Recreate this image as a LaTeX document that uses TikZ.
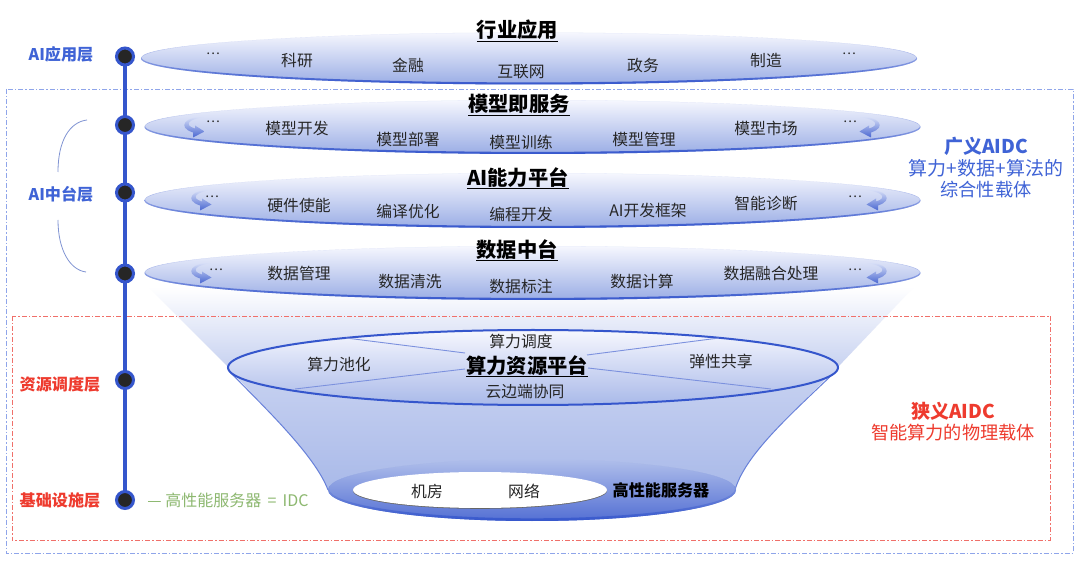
\documentclass[tikz,border=0pt]{standalone}
\usepackage{fontspec}
\setmainfont{Noto Sans CJK SC}
\definecolor{lineblue}{HTML}{3556CC}
\definecolor{txtblue}{HTML}{3F63D6}
\definecolor{frameblue}{HTML}{8FA5EA}
\definecolor{framered}{HTML}{F0706A}
\definecolor{txtred}{HTML}{EE3B2E}
\definecolor{txtgreen}{HTML}{8DB870}
\definecolor{txtdark}{HTML}{262626}
\definecolor{lenstop}{HTML}{F6F7FE}
\definecolor{lensbot}{HTML}{9AADE5}
\tikzset{
  fs/.style={font=\fontsize{#1}{#1}\selectfont},
  lbl/.style={fs=15.8,text=txtdark,inner sep=0pt,yshift=-0.8pt},
  ttl/.style={text=black,inner sep=0pt,font=\fontsize{20.3}{20.3}\selectfont\bfseries,yshift=-1.2pt},
  lay/.style={inner sep=0pt,font=\fontsize{16.1}{16.1}\selectfont\bfseries,yshift=-0.8pt},
  more/.style={fs=13,text=txtdark,inner sep=0pt},
  tdot/.style={circle,draw=lineblue,line width=3pt,fill=txtdark,minimum size=17pt,inner sep=0pt},
  frameline/.style={line width=0.9pt,dash pattern=on 5pt off 2pt on 1.5pt off 2pt},
  brace/.style={line width=0.8pt,draw=frameblue!90!black},
}
\newcommand{\lens}[4]{%
  \shade[top color=lenstop,bottom color=lensbot] (#1,#2) ellipse[x radius=#3,y radius=#4];
  \shade[even odd rule,top color=lenstop!85!frameblue,middle color=frameblue,bottom color=lineblue]
    (#1,#2) ellipse[x radius=#3,y radius=#4]
    (#1,#2-0.9) ellipse[x radius=#3-0.6,y radius=#4-1.2];
}
\newcommand{\swirlpath}{(22,0) .. controls (4,-1) and (-6,10) .. (11,15.5) -- (11,20.5) -- (22.5,14.5) -- (13,8.5) -- (13,11.5) .. controls (1,8) and (7,2) .. (22,0) -- cycle}
\newcommand{\swirlL}[2]{\shade[shift={(#1,#2)},top color=frameblue!30!white,middle color=frameblue,bottom color=lineblue!90!white] \swirlpath;}
\newcommand{\swirlR}[2]{\shade[shift={(#1,#2)},xscale=-1,top color=frameblue!30!white,middle color=frameblue,bottom color=lineblue!90!white] \swirlpath;}
\begin{document}
\begin{tikzpicture}[x=1pt,y=-1pt]
\useasboundingbox (0,0) rectangle (1080,561);
\fill[white] (0,0) rectangle (1080,561);

% fan under the data platform
\shade[top color=white,bottom color=lensbot!55!white] (148,287) -- (914,287) -- (838,367) -- (228,367) -- cycle;
% lower funnel
\shade[top color=lensbot!55!white,bottom color=lensbot!85!white] (230,370) .. controls (262,405) and (315,455) .. (328,490) -- (735,490) .. controls (745,455) and (790,415) .. (835,370) -- cycle;
\draw[line width=1pt,draw=lineblue!75!white] (230,372) .. controls (262,405) and (315,455) .. (328,490);
\draw[line width=1pt,draw=lineblue!75!white] (735,490) .. controls (745,455) and (790,415) .. (835,372);

% upper lenses
\lens{529}{58.5}{388}{26}
\lens{532.5}{127}{388}{27}
\lens{532.5}{200.5}{388}{27.5}
\lens{532.5}{273}{388}{27}

% server ring
\shade[top color=lensbot!78!white,bottom color=lineblue!85!white] (532,490) ellipse[x radius=204,y radius=31];
\shade[even odd rule,top color=lensbot!78!white,middle color=lineblue!70!white,bottom color=lineblue]
  (532,490) ellipse[x radius=204,y radius=31]
  (532,488.8) ellipse[x radius=203,y radius=29.5];
\fill[black!60] (480,490.8) ellipse[x radius=127,y radius=18];
\fill[white] (480,490) ellipse[x radius=127,y radius=18];

% computing platform ellipse
\shade[top color=lenstop,bottom color=lensbot!85!white] (533,367.5) ellipse[x radius=305,y radius=37.5];
\draw[line width=2pt,draw=lineblue] (533,367.5) ellipse[x radius=305,y radius=37.5];
\coordinate (xa) at (346,338);
\coordinate (xb) at (465,353);
\coordinate (xc) at (295,389);
\coordinate (xd) at (465,369);
\coordinate (xe) at (719,338);
\coordinate (xf) at (587,355);
\coordinate (xg) at (771,389);
\coordinate (xh) at (588,368);
\draw[line width=0.9pt,draw=lineblue!65!white] (xa)--(xb) (xc)--(xd) (xe)--(xf) (xg)--(xh);

% swirl arrows
\swirlL{182}{117}\swirlL{189}{190}\swirlL{189}{263}
\swirlR{882}{117}\swirlR{889}{190}\swirlR{889}{263}

% frames
\draw[frameline,draw=frameblue] (6,89) rectangle (1073,553);
\draw[frameline,draw=framered] (12,316) rectangle (1050,540);

% brace arcs
\draw[brace] (87,120) .. controls (70,122) and (58,140) .. (58,172);
\draw[brace] (58,220) .. controls (58,250) and (70,270) .. (86,272);

% timeline
\coordinate (t1) at (125,56.5);
\coordinate (t2) at (125,125);
\coordinate (t3) at (125,192.5);
\coordinate (t4) at (125,273.5);
\coordinate (t5) at (125,380);
\coordinate (t6) at (125,500);
\draw[line width=4.5pt,draw=lineblue] (t1) -- (t6);
\foreach \i in {1,...,6}{\node[tdot] (d\i) at (t\i) {};}

% left labels
\node[lay,text=txtblue] (l1) at (61,54) {AI应用层};
\node[lay,text=txtblue] (l2) at (61,193) {AI中台层};
\node[lay,text=txtred] (l3) at (60,384) {资源调度层};
\node[lay,text=txtred] (l4) at (60,500) {基础设施层};
\node[fs=16,text=txtgreen,inner sep=0pt,yshift=-0.8pt] (g1) at (228,500) {— 高性能服务器 \,=\, IDC};

% titles
\node[ttl] (h1) at (517.5,30) {\underline{行业应用}};
\node[ttl] (h2) at (519,104) {\underline{模型即服务}};
\node[ttl] (h3) at (518,177) {\underline{AI能力平台}};
\node[ttl] (h4) at (517,249) {\underline{数据中台}};
\node[ttl] (h5) at (527,365) {\underline{算力资源平台}};

% row 1
\node[more] (a0) at (213,54) {…};
\node[lbl] (a1) at (297,60) {科研};
\node[lbl] (a2) at (408,65) {金融};
\node[lbl] (a3) at (521,71) {互联网};
\node[lbl] (a4) at (643,65) {政务};
\node[lbl] (a5) at (766,60) {制造};
\node[more] (a6) at (849,54) {…};
% row 2
\node[more] (b0) at (213,122) {…};
\node[lbl] (b1) at (297,128) {模型开发};
\node[lbl] (b2) at (408,139) {模型部署};
\node[lbl] (b3) at (521,142) {模型训练};
\node[lbl] (b4) at (644,139) {模型管理};
\node[lbl] (b5) at (766,128) {模型市场};
\node[more] (b6) at (850,122) {…};
% row 3
\node[more] (c0) at (212,197) {…};
\node[lbl] (c1) at (299,205) {硬件使能};
\node[lbl] (c2) at (408,211) {编译优化};
\node[lbl] (c3) at (521,214) {编程开发};
\node[lbl] (c4) at (648,210) {AI开发框架};
\node[lbl] (c5) at (766,203) {智能诊断};
\node[more] (c6) at (855,197) {…};
% row 4
\node[more] (e0) at (216,270) {…};
\node[lbl] (e1) at (299,273) {数据管理};
\node[lbl] (e2) at (410,281) {数据清洗};
\node[lbl] (e3) at (521,286) {数据标注};
\node[lbl] (e4) at (642,281) {数据计算};
\node[lbl] (e5) at (771,273) {数据融合处理};
\node[more] (e6) at (855,270) {…};
% platform
\node[lbl] (f1) at (521,341) {算力调度};
\node[lbl] (f2) at (339,364) {算力池化};
\node[lbl] (f3) at (721,361) {弹性共享};
\node[lbl] (f4) at (525,391) {云边端协同};
% base
\node[lbl] (s1) at (427,491) {机房};
\node[lbl] (s2) at (524,491) {网络};
\node[lay,text=black] (s3) at (661,490) {高性能服务器};

% right notes
\node[inner sep=0pt,text=txtblue,font=\fontsize{19}{19}\selectfont\bfseries,yshift=-0.8pt] (r1) at (986,146) {广义AIDC};
\node[fs=19,inner sep=0pt,text=txtblue,yshift=-0.8pt] (r2) at (986,167) {算力+数据+算法的};
\node[fs=18.2,inner sep=0pt,text=txtblue,yshift=-0.8pt] (r3) at (986,189) {综合性载体};
\node[inner sep=0pt,text=txtred,font=\fontsize{19}{19}\selectfont\bfseries,yshift=-0.8pt] (r4) at (953,411) {狭义AIDC};
\node[fs=18.2,inner sep=0pt,text=txtred,yshift=-0.8pt] (r5) at (953,432) {智能算力的物理载体};
\end{tikzpicture}
\end{document}
